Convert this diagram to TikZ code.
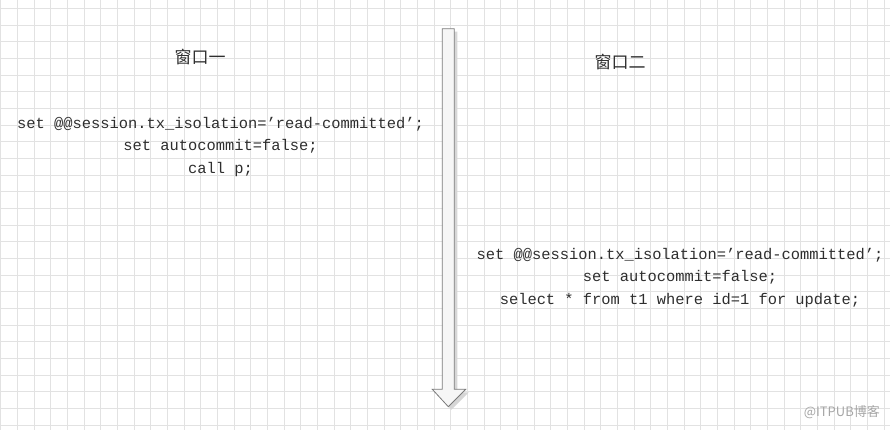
\documentclass[tikz,border=0pt]{standalone}
\usepackage{fontspec}
\setmonofont{Liberation Mono}
\newfontfamily\cjk{Noto Sans CJK SC}
\newfontfamily\wmfont{Noto Sans CJK SC}
\definecolor{gridc}{HTML}{E2E2E2}
\definecolor{textc}{HTML}{2E2E2E}
\definecolor{arrowfill}{HTML}{F6F6F6}
\definecolor{arrowline}{HTML}{7A7A7A}
\definecolor{shadowc}{HTML}{D6D6D6}
\tikzset{
  gridline/.style={draw=gridc, line width=0.8pt},
  codetext/.style={text=textc, align=center, inner sep=0pt,
    font=\ttfamily\fontsize{15.4}{22.5}\selectfont},
  titletext/.style={text=textc, inner sep=0pt, font=\cjk\fontsize{17}{20}\selectfont},
  timearrow/.style={draw=arrowline, fill=arrowfill, line width=0.8pt, line join=miter},
  arrowshadow/.style={fill=shadowc, draw=none},
  watermark/.style={text=gray!70, inner sep=0pt, font=\wmfont\fontsize{13}{15}\selectfont}
}
\begin{document}
\begin{tikzpicture}[x=1pt,y=-1pt]
\useasboundingbox (0,0) rectangle (890,430);
\fill[white] (0,0) rectangle (890,430);
% grid
\foreach \i in {0,...,53} {
  \draw[gridline] ({0.67+16.667*\i},0) -- ({0.67+16.667*\i},430);
}
\foreach \j in {0,...,25} {
  \draw[gridline] (0,{8.33+16.667*\j}) -- (890,{8.33+16.667*\j});
}
% time arrow (shadow then body)
\coordinate (atop) at (448.3,28.7);
\coordinate (atip) at (448.3,406.7);
\fill[arrowshadow] (445.3,31.7) -- (457.3,31.7) -- (457.3,392.3) -- (468.7,392.3) -- (451.3,409.7) -- (435.3,392.3) -- (445.3,392.3) -- cycle;
\draw[timearrow] (442.3,28.7) -- (454.3,28.7) -- (454.3,389.3) -- (465.7,389.3) -- (atip) -- (432.3,389.3) -- (442.3,389.3) -- cycle;
% titles
\node[titletext] (w1) at (200,57) {窗口一};
\node[titletext] (w2) at (620,62) {窗口二};
% code blocks
\node[codetext] (c1) at (220.5,147) {set @@session.tx\_isolation=’read-committed’;\\set autocommit=false;\\call p;};
\node[codetext] (c2) at (680,278) {set @@session.tx\_isolation=’read-committed’;\\set autocommit=false;\\select * from t1 where id=1 for update;};
% watermark
\node[watermark, anchor=east] (wm) at (880,412) {@ITPUB博客};
\end{tikzpicture}
\end{document}
